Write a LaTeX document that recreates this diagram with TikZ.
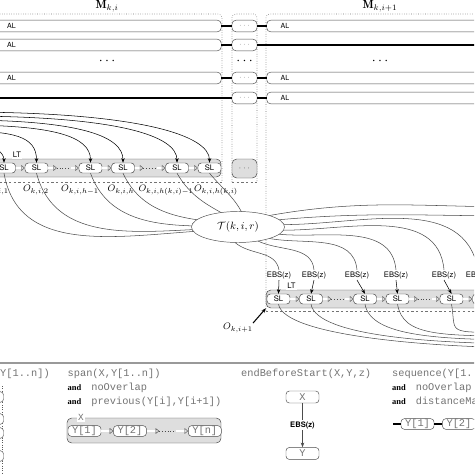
\documentclass[tikz,border=0pt]{standalone}
\usepackage{fontspec}
\setsansfont{TeX Gyre Heros}
\setmonofont{Liberation Mono}
\newfontfamily\kwfont{Liberation Serif}
\usetikzlibrary{shapes.geometric, arrows.meta, positioning}
\tikzstyle{alBox} = [rectangle, rounded corners=0.12cm, draw=black!70, fill=white, minimum height=0.35cm, inner xsep=0.42cm, inner ysep=0pt, align=left, font=\sffamily\fontsize{6}{7}\selectfont]
\tikzstyle{midBox} = [rectangle, rounded corners=0.12cm, draw=black!70, fill=white, minimum width=0.75cm, minimum height=0.35cm, inner sep=0pt, text=black!60, font=\fontsize{6}{7}\selectfont]
\tikzstyle{grpBox} = [rectangle, rounded corners=0.14cm, draw=black!75, fill=black!13, inner sep=0pt]
\tikzstyle{slBox} = [rectangle, rounded corners=0.1cm, draw=black!75, fill=white, minimum width=0.69cm, minimum height=0.3cm, inner sep=0pt, font=\sffamily\fontsize{6.5}{7}\selectfont]
\tikzstyle{tagNode} = [inner sep=1pt, font=\sffamily\fontsize{6.5}{7}\selectfont]
\tikzstyle{oNode} = [inner sep=0pt, font=\fontsize{8.5}{9}\selectfont]
\tikzstyle{linkThick} = [line width=1.6pt, draw=black]
\tikzstyle{seqArrow} = [draw=black!70, line width=0.35pt, double=white, double distance=1pt, -{Triangle[open, length=3pt, width=5pt]}]
\tikzstyle{gapDots} = [draw=black!70, line width=0.8pt, dash pattern=on 0.8pt off 1.6pt]
\tikzstyle{curveLine} = [draw=black!70, line width=0.45pt]
\tikzstyle{arrowK} = [curveLine, draw=black, -{Stealth[length=4pt, width=3pt]}]
\tikzstyle{borderDot} = [draw=black!55, line width=0.5pt, dash pattern=on 0.5pt off 1.5pt]
\tikzstyle{borderDash} = [draw=black!55, line width=0.5pt, dash pattern=on 2pt off 2pt]
\tikzstyle{codeText} = [inner sep=0pt, text=black!55, font=\ttfamily\fontsize{8.8}{12}\selectfont]
\tikzstyle{codeBox} = [rectangle, rounded corners=0.1cm, draw=black!70, fill=white, minimum width=0.99cm, minimum height=0.32cm, inner sep=0pt, text=black!55, font=\ttfamily\fontsize{8.8}{9}\selectfont]
\newcommand{\andKw}{{\kwfont\bfseries\fontsize{7.2}{9}\selectfont\color{black}and}\hspace{0.3cm}}

\begin{document}
\begin{tikzpicture}[x=0.03cm, y=-0.03cm, node distance=0.975cm]
    \useasboundingbox (0,0) rectangle (474,474);
    \clip (0,0) rectangle (474,474);

    % module frames
    \node (mA) [oNode, font=\fontsize{10}{11}\selectfont] at (107,6) {$\mathbf{M}_{k,i}$};
    \node (mB) [oNode, font=\fontsize{10}{11}\selectfont] at (380,6) {$\mathbf{M}_{k,i+1}$};
    \draw [borderDot, rounded corners=3pt] (-5,14) -- (222,14) -- (222,182);
    \draw [borderDash] (-5,182) -- (222,182);
    \draw [borderDot, rounded corners=3pt] (232,182) -- (232,14) -- (257,14) -- (257,182);
    \draw [borderDash] (232,182) -- (257,182);
    \draw [borderDot, rounded corners=3pt] (266,311) -- (266,14) -- (480,14);
    \draw [borderDash] (266,311) -- (480,311);

    % activity lines
    \node (alA1) [alBox, text width=6cm, anchor=west] at (-7,26) {AL};
    \node (alA2) [alBox, text width=6cm, anchor=west] at (-7,45) {AL};
    \node (alA4) [alBox, text width=6cm, anchor=west] at (-7,78) {AL};
    \coordinate (lineA5) at (-10,98);
    \node (md1) [midBox] at (244.5,26) {$\cdots$};
    \node (md2) [midBox] at (244.5,45) {$\cdots$};
    \node (md4) [midBox] at (244.5,78) {$\cdots$};
    \node (md5) [midBox] at (244.5,98) {$\cdots$};
    \node (alB1) [alBox, text width=6.36cm, anchor=west] at (266.5,26) {AL};
    \coordinate (lineB2) at (480,45);
    \node (alB4) [alBox, text width=6.36cm, anchor=west] at (266.5,78) {AL};
    \node (alB5) [alBox, text width=6.36cm, anchor=west] at (266.5,98) {AL};
    \node (dotA) at (107,61) {\large$\cdots$};
    \node (dotM) at (244.5,61) {\large$\cdots$};
    \node (dotB) at (380,61) {\large$\cdots$};
    \draw [linkThick] (alA1) -- (md1);
    \draw [linkThick] (md1) -- (alB1);
    \draw [linkThick] (alA2) -- (md2);
    \draw [linkThick] (md2) -- (lineB2);
    \draw [linkThick] (alA4) -- (md4);
    \draw [linkThick] (md4) -- (alB4);
    \draw [linkThick] (lineA5) -- (md5);
    \draw [linkThick] (md5) -- (alB5);

    % O_{k,i}
    \node (grpA) [grpBox, minimum width=6.96cm, minimum height=0.54cm] at (105,168) {};
    \node (grpM) [grpBox, minimum width=0.75cm, minimum height=0.57cm, text=black!75, font=\fontsize{7}{8}\selectfont] at (244.5,168.5) {$\cdots$};
    \node (ltA) [tagNode, fill=white] at (17,155) {LT};
    \node (sl1) [slBox] at (4,168) {SL};
    \node (sl2) [slBox, right of=sl1] {SL};
    \node (sl3) [slBox, right of=sl2, xshift=0.645cm] {SL};
    \node (sl4) [slBox, right of=sl3] {SL};
    \node (sl5) [slBox, right of=sl4, xshift=0.645cm] {SL};
    \node (sl6) [slBox, right of=sl5] {SL};
    \node (o1) [oNode] at (-4,190) {$O_{k,i,1}$};
    \node (o2) [oNode] at (36,190) {$O_{k,i,2}$};
    \node (o3) [oNode] at (80,190) {$O_{k,i,h-1}$};
    \node (o4) [oNode] at (121,190) {$O_{k,i,h}$};
    \node (o5) [oNode] at (166,190) {$O_{k,i,h(k,i)-1}$};
    \node (o6) [oNode] at (216,190) {$O_{k,i,h(k,i)}$};
    \coordinate (src1) at (-15,146);
    \draw [arrowK] (src1) to[out=0, in=90] (sl1.north);
    \foreach \n/\yy/\od in {2/131/1.6, 3/125/2.8, 4/120/3.6, 5/116/4.8, 6/112/5.5} {
        \coordinate (src\n) at (-40,\yy);
        \draw [arrowK] (src\n) to[out=0, in=90, out distance=\od cm, in distance=0.8cm] (sl\n.north);
    }

    % O_{k,i+1}
    \node (grpB) [grpBox, minimum width=7.1cm, minimum height=0.54cm] at (384.5,299) {};
    \node (ltB) [tagNode, fill=white] at (291.5,286) {LT};
    \node (sb1) [slBox] at (278.5,299) {SL};
    \node (sb2) [slBox, right of=sb1] {SL};
    \node (sb3) [slBox, right of=sb2, xshift=0.645cm] {SL};
    \node (sb4) [slBox, right of=sb3] {SL};
    \node (sb5) [slBox, right of=sb4, xshift=0.645cm] {SL};
    \node (sb6) [slBox, right of=sb5] {SL};
    \node (oNext) [oNode] at (238,328) {$O_{k,i+1}$};
    \draw [arrowK, line width=0.9pt] (oNext.north east) -- (grpB.south west);

    % sequence chains
    \foreach \r in {sl,sb} {
        \path (\r2) -- (\r3) coordinate[pos=0.28] (\r g1) coordinate[pos=0.74] (\r g2);
        \path (\r4) -- (\r5) coordinate[pos=0.28] (\r g3) coordinate[pos=0.74] (\r g4);
        \draw [seqArrow] (\r1) -- (\r2);
        \draw [seqArrow] (\r2) -- (\r g1);
        \draw [gapDots] (\r g1) -- (\r g2);
        \draw [seqArrow] (\r g2) -- (\r3);
        \draw [seqArrow] (\r3) -- (\r4);
        \draw [seqArrow] (\r4) -- (\r g3);
        \draw [gapDots] (\r g3) -- (\r g4);
        \draw [seqArrow] (\r g4) -- (\r5);
        \draw [seqArrow] (\r5) -- (\r6);
    }

    % transitions
    \draw [curveLine] (sl1.south) to[out=-80, in=180] (238,229.5);
    \draw [curveLine] (sl2.south) to[out=-75, in=180] (238,228);
    \draw [curveLine] (sl3.south) to[out=-70, in=180] (238,226);
    \draw [curveLine] (sl4.south) to[out=-65, in=175] (238,224);
    \draw [curveLine] (sl5.south) to[out=-60, in=150] (238,222);
    \draw [curveLine] (sl6.south) to[out=-50, in=110] (246,222);
    \node (T) [ellipse, draw=black!70, fill=white, minimum width=2.79cm, minimum height=0.93cm, inner sep=0pt, font=\fontsize{9}{10}\selectfont] at (238,227) {$\mathcal{T}(k,i,r)$};
    \node (ebs1) [tagNode] at (279,275) {EBS(z)};
    \node (ebs2) [tagNode] at (314,275) {EBS(z)};
    \node (ebs3) [tagNode] at (357,275) {EBS(z)};
    \node (ebs4) [tagNode] at (396,275) {EBS(z)};
    \node (ebs5) [tagNode] at (444,275) {EBS(z)};
    \node (ebs6) [tagNode] at (478,275) {EBS(z)};
    \draw [curveLine] (T.-100) to[out=-40, in=100] (ebs1.north);
    \draw [curveLine] (T.-35) to[out=-25, in=95] (ebs2.north);
    \draw [curveLine] (T.-20) to[out=-10, in=95] (ebs3.north);
    \draw [curveLine] (T.-10) to[out=-5, in=95] (ebs4.north);
    \draw [curveLine] (T.-4) to[out=0, in=95] (ebs5.north);
    \draw [curveLine] (T.3) to[out=0, in=100] (ebs6.north);
    \coordinate (outT1) at (520,216);
    \coordinate (outT2) at (520,207);
    \draw [curveLine] (T.10) to[out=5, in=180] (outT1);
    \draw [curveLine] (T.20) to[out=10, in=180] (outT2);
    \foreach \n in {1,...,6} {
        \draw [arrowK] (ebs\n.south) -- (sb\n.north);
    }
    \foreach \n/\yy in {1/348, 2/344, 3/340, 4/336, 5/332} {
        \coordinate (outB\n) at (540,\yy);
        \draw [curveLine] (sb\n.south) to[out=-80, in=180, out distance=1cm, in distance=3cm] (outB\n);
    }

    % legend
    \draw [draw=black!40, line width=1pt] (-5,363) -- (480,363);
    \node (altTxt) [codeText, anchor=base west] at (0,376) {Y[1..n])};
    \draw [borderDot, draw=black!65] (2,386) -- (2,474);
    \node (altY1) [codeBox] at (-13,397) {};
    \node (altY2) [codeBox] at (-13,419) {};
    \node (altY3) [codeBox] at (-13,433) {};
    \node (altY4) [codeBox] at (-13,456) {};

    \node (spanL1) [codeText, anchor=base west] at (67.5,376) {span(X,Y[1..n])};
    \node (spanL2) [codeText, anchor=base west] at (67.5,390) {\andKw noOverlap};
    \node (spanL3) [codeText, anchor=base west] at (67.5,404) {\andKw previous(Y[i],Y[i+1])};
    \node (spanGrp) [grpBox, minimum width=4.62cm, minimum height=0.75cm] at (144,430.5) {};
    \node (spanX) [codeText, fill=white, inner sep=0.8pt, font=\ttfamily\fontsize{8}{8}\selectfont] at (81,417.5) {X};
    \node (spY1) [codeBox] at (84.5,431) {Y[1]};
    \node (spY2) [codeBox, right=0.36cm of spY1] {Y[2]};
    \node (spYn) [codeBox, right=1.24cm of spY2] {Y[n]};
    \path (spY2) -- (spYn) coordinate[pos=0.3] (spg1) coordinate[pos=0.72] (spg2);
    \draw [seqArrow] (spY1) -- (spY2);
    \draw [seqArrow] (spY2) -- (spg1);
    \draw [gapDots] (spg1) -- (spg2);
    \draw [seqArrow] (spg2) -- (spYn);

    \node (ebsTxt) [codeText, anchor=base west] at (241,376) {endBeforeStart(X,Y,z)};
    \node (ebX) [codeBox, minimum height=0.36cm] at (302.5,397) {X};
    \node (ebY) [codeBox, minimum height=0.36cm, below=1.32cm of ebX] {Y};
    \draw [arrowK, draw=black!70] (ebX) -- node[tagNode, fill=white, font=\sffamily\bfseries\fontsize{6.5}{7}\selectfont] {EBS(z)} (ebY);

    \node (seqL1) [codeText, anchor=base west] at (392,376) {sequence(Y[1..n])};
    \node (seqL2) [codeText, anchor=base west] at (392,390) {\andKw noOverlap};
    \node (seqL3) [codeText, anchor=base west] at (392,404) {\andKw distanceMax};
    \coordinate (seqIn) at (393,424);
    \node (sqY1) [codeBox] at (417.5,424) {Y[1]};
    \node (sqY2) [codeBox, right=0.24cm of sqY1] {Y[2]};
    \draw [linkThick] (seqIn) -- (sqY1);
    \draw [linkThick] (sqY1) -- (sqY2);
\end{tikzpicture}
\end{document}
